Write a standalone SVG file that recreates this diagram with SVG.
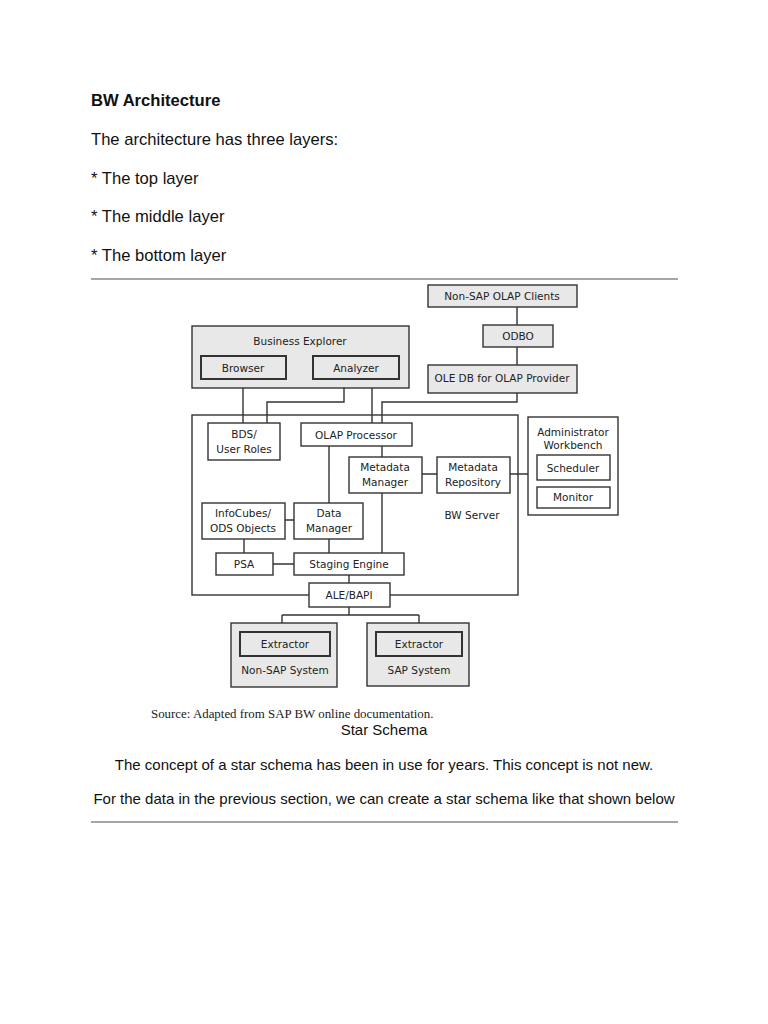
<svg xmlns="http://www.w3.org/2000/svg" width="768" height="1024" viewBox="0 0 768 1024">
<style>
.page{font-family:"Liberation Sans",Arial,sans-serif;fill:#111;font-size:16.6px}
.small{font-family:"Liberation Sans",Arial,sans-serif;fill:#111;font-size:15px;text-anchor:middle}
.lbl{font-family:"DejaVu Sans","Liberation Sans",sans-serif;font-size:10.5px;fill:#222;text-anchor:middle}
.g{fill:#e8e8e8;stroke:#333;stroke-width:1.4}
.w{fill:#fff;stroke:#333;stroke-width:1.4}
.gi{fill:#e8e8e8;stroke:#333;stroke-width:2}
.c{fill:none;stroke:#333;stroke-width:1.4}
.rule{stroke:#888;stroke-width:1.6}
</style>
<rect width="768" height="1024" fill="#fff"/>
<text class="page" x="91" y="106" font-weight="bold">BW Architecture</text>
<text class="page" x="91" y="145">The architecture has three layers:</text>
<text class="page" x="91" y="184">* The top layer</text>
<text class="page" x="91" y="222">* The middle layer</text>
<text class="page" x="91" y="261">* The bottom layer</text>
<line class="rule" x1="91" y1="279" x2="678" y2="279"/>

<g id="bw-server"><rect class="w" x="192" y="415" width="326" height="180"/><text class="lbl" x="472" y="519">BW Server</text></g>

<g id="connectors">
<path class="c" d="M517 307V325M517 347V365M517 393V402H382V423M372 388V423M344 379V402H267V423M243 388V423"/>
<path class="c" d="M329 446V503M382 446V457M422 474H437M510 474H528M285 520H294M244 539V553M329 539V553M382 493V553M273 564H294M349 575V583"/>
<path class="c" d="M349 607V615M282 615H419M282 615V632M419 615V632"/>
</g>

<g id="business-explorer"><rect class="g" x="192" y="326" width="217" height="62"/><text class="lbl" x="300" y="345">Business Explorer</text></g>
<g id="browser"><rect class="gi" x="201" y="356" width="85" height="23"/><text class="lbl" x="243" y="372">Browser</text></g>
<g id="analyzer"><rect class="gi" x="313" y="356" width="86" height="23"/><text class="lbl" x="356" y="372">Analyzer</text></g>

<g id="non-sap-olap-clients"><rect class="g" x="428" y="285" width="149" height="22"/><text class="lbl" x="502" y="300">Non-SAP OLAP Clients</text></g>
<g id="odbo"><rect class="g" x="483" y="325" width="70" height="22"/><text class="lbl" x="518" y="340">ODBO</text></g>
<g id="ole-db"><rect class="g" x="428" y="365" width="149" height="28"/><text class="lbl" x="502" y="382">OLE DB for OLAP Provider</text></g>

<g id="bds"><rect class="w" x="208" y="423" width="72" height="37"/><text class="lbl" x="244" y="438">BDS/</text><text class="lbl" x="244" y="453">User Roles</text></g>
<g id="olap-processor"><rect class="w" x="301" y="423" width="111" height="23"/><text class="lbl" x="356" y="439">OLAP Processor</text></g>
<g id="metadata-manager"><rect class="w" x="349" y="457" width="73" height="36"/><text class="lbl" x="385" y="471">Metadata</text><text class="lbl" x="385" y="486">Manager</text></g>
<g id="metadata-repository"><rect class="w" x="437" y="457" width="73" height="36"/><text class="lbl" x="473" y="471">Metadata</text><text class="lbl" x="473" y="486">Repository</text></g>
<g id="infocubes"><rect class="w" x="202" y="503" width="83" height="36"/><text class="lbl" x="243" y="517">InfoCubes/</text><text class="lbl" x="243" y="532">ODS Objects</text></g>
<g id="data-manager"><rect class="w" x="294" y="503" width="69" height="36"/><text class="lbl" x="329" y="517">Data</text><text class="lbl" x="329" y="532">Manager</text></g>
<g id="psa"><rect class="w" x="216" y="553" width="57" height="22"/><text class="lbl" x="244" y="568">PSA</text></g>
<g id="staging-engine"><rect class="w" x="294" y="553" width="110" height="22"/><text class="lbl" x="349" y="568">Staging Engine</text></g>
<g id="ale-bapi"><rect class="w" x="309" y="583" width="81" height="24"/><text class="lbl" x="349" y="599">ALE/BAPI</text></g>

<g id="admin-workbench"><rect class="w" x="528" y="417" width="90" height="98"/><text class="lbl" x="573" y="436">Administrator</text><text class="lbl" x="573" y="449">Workbench</text></g>
<g id="scheduler"><rect class="w" x="537" y="455" width="73" height="25"/><text class="lbl" x="573" y="472">Scheduler</text></g>
<g id="monitor"><rect class="w" x="537" y="487" width="73" height="21"/><text class="lbl" x="573" y="501">Monitor</text></g>

<g id="non-sap-system"><rect class="g" x="231" y="623" width="106" height="64"/><rect class="gi" x="240" y="632" width="90" height="24"/><text class="lbl" x="285" y="648">Extractor</text><text class="lbl" x="285" y="674">Non-SAP System</text></g>
<g id="sap-system"><rect class="g" x="367" y="623" width="102" height="63"/><rect class="gi" x="376" y="632" width="86" height="24"/><text class="lbl" x="419" y="648">Extractor</text><text class="lbl" x="419" y="674">SAP System</text></g>

<text x="151" y="718" font-family="Liberation Serif,serif" font-size="12.9" fill="#222">Source: Adapted from SAP BW online documentation.</text>
<text class="small" x="384" y="735">Star Schema</text>
<text class="small" x="384" y="770">The concept of a star schema has been in use for years. This concept is not new.</text>
<text class="small" x="384" y="804">For the data in the previous section, we can create a star schema like that shown below</text>
<line class="rule" x1="91" y1="822" x2="678" y2="822"/>
</svg>
